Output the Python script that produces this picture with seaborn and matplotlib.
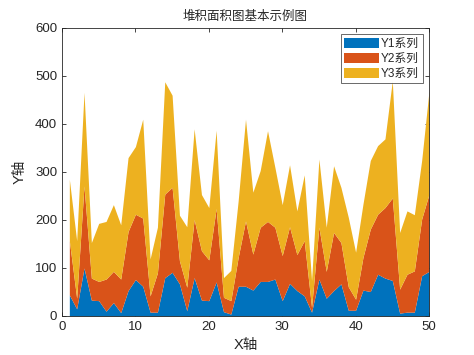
import numpy as np
import seaborn as sns
import matplotlib.pyplot as plt

# values (cumulative heights turned into series)
x_vals = list(range(1, 51))
y1 = [44, 15, 100, 33, 32, 10, 28, 7, 53, 76,
      62, 8, 8, 80, 91, 67, 11, 80, 33, 32,
      71, 9, 4, 62, 62, 54, 72, 72, 77, 32,
      68, 53, 42, 8, 77, 37, 53, 67, 12, 12,
      54, 51, 87, 79, 74, 6, 8, 8, 84, 93]
cum12 = [157, 37, 271, 79, 72, 77, 93, 77, 176, 212,
         204, 42, 90, 254, 268, 115, 60, 201, 136, 117,
         224, 39, 32, 122, 198, 129, 185, 197, 185, 126,
         186, 128, 157, 18, 185, 93, 174, 153, 61, 35,
         122, 181, 212, 226, 246, 56, 87, 94, 202, 254]
cum_top = [285, 157, 466, 153, 193, 197, 232, 190, 330, 353,
           410, 119, 185, 488, 460, 210, 186, 390, 253, 226,
           387, 80, 95, 240, 410, 258, 303, 386, 310, 232,
           315, 219, 294, 74, 327, 185, 313, 268, 206, 133,
           233, 324, 355, 369, 490, 174, 219, 211, 324, 469]

y2 = list(np.array(cum12) - np.array(y1))
y3 = list(np.array(cum_top) - np.array(cum12))

labels = ['Y1系列', 'Y2系列', 'Y3系列']
colors = ['#0072BD', '#D95319', '#EDB120']

sns.set_theme(style="ticks")
plt.rcParams['font.family'] = ['Liberation Sans', 'Noto Sans CJK SC']

fig = plt.figure(figsize=(4.74, 3.55), dpi=100)
ax = fig.add_axes([62 / 474, 1 - 316 / 355, (429 - 62) / 474, (316 - 28) / 355])

ax.stackplot(x_vals, y1, y2, y3, labels=labels, colors=colors, linewidth=0)

ax.set_xlim(0, 50)
ax.set_ylim(0, 600)
ax.set_xticks(range(0, 51, 10))
ax.set_yticks(range(0, 601, 100))
ax.tick_params(direction='in', top=True, right=True, labelsize=9.5, length=3, width=0.6, colors='#262626')
for s in ax.spines.values():
    s.set_linewidth(0.6)
    s.set_color('#262626')
    s.set_visible(True)

ax.set_title('堆积面积图基本示例图', fontsize=9, pad=6)
ax.set_xlabel('X轴', fontsize=10.5)
ax.set_ylabel('Y轴', fontsize=10.5, labelpad=6)

leg = ax.legend(loc='upper right', fontsize=8.5, frameon=True, fancybox=False,
                edgecolor='#262626', borderpad=0.3, labelspacing=0.25,
                handlelength=2.9, handleheight=0.9, handletextpad=0.2,
                borderaxespad=0.55)
leg.get_frame().set_linewidth(0.6)

fig.savefig('out.png', dpi=100)
